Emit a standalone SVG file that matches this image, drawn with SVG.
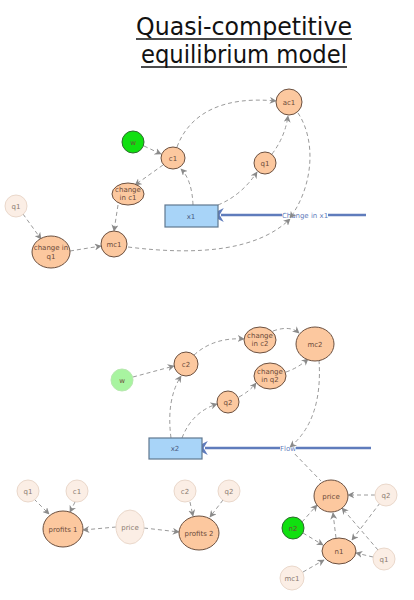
<svg xmlns="http://www.w3.org/2000/svg" width="414" height="600" viewBox="0 0 414 600">
<style>
.n{fill:#fcc89f;stroke:#6b5040;stroke-width:1}
.f{fill:#fbeee5;stroke:#ead8cb;stroke-width:1}
.g{fill:#10e010;stroke:#2f6a2f;stroke-width:1}
.lg{fill:#a8f4a0;stroke:#b8e8b0;stroke-width:1}
.b{fill:#a8d4f8;stroke:#607890;stroke-width:1.2}
.t{font-family:"DejaVu Sans",sans-serif;font-size:7px;fill:#6b4a3a;text-anchor:middle}
.tf{font-family:"DejaVu Sans",sans-serif;font-size:7px;fill:#8a7a70;text-anchor:middle}
.tb{font-family:"DejaVu Sans",sans-serif;font-size:7px;fill:#4a5a80;text-anchor:middle}
.tl{font-family:"DejaVu Sans",sans-serif;font-size:7px;fill:#5f7cbc;text-anchor:middle}
.c{fill:none;stroke:#9a9a9a;stroke-width:1;stroke-dasharray:4,3;marker-end:url(#a)}
.cn{fill:none;stroke:#9a9a9a;stroke-width:1;stroke-dasharray:4,3}
.fl{fill:none;stroke:#5f7cbc;stroke-width:2.5;marker-end:url(#fa)}
.title{font-family:"Comic Sans MS","DejaVu Sans",sans-serif;font-size:24px;fill:#111;text-anchor:middle}
</style>
<defs>
<marker id="a" viewBox="0 0 10 10" refX="9" refY="5" markerWidth="7" markerHeight="7" markerUnits="userSpaceOnUse" orient="auto">
<path d="M0,0 L10,5 L0,10 L3,5 z" fill="#8a8a8a"/>
</marker>
<marker id="fa" viewBox="0 0 10 10" refX="2" refY="5" markerWidth="14" markerHeight="14" markerUnits="userSpaceOnUse" orient="auto">
<path d="M0,0 L10,5 L0,10 L3,5 z" fill="#5f7cbc"/>
</marker>
</defs>

<g id="title">
<text class="title" x="244" y="35" textLength="216" lengthAdjust="spacingAndGlyphs">Quasi-competitive</text>
<line x1="136" y1="39" x2="352" y2="39" stroke="#111" stroke-width="1.5"/>
<text class="title" x="244" y="63" textLength="206" lengthAdjust="spacingAndGlyphs">equilibrium model</text>
<line x1="141" y1="67" x2="347" y2="67" stroke="#111" stroke-width="1.5"/>
</g>

<g id="connectors">
<path class="fl" d="M366,215 L221,215"/>
<path class="fl" d="M371,448 L205,448"/>
<path class="c" d="M144,146 L161,154"/>
<path class="c" d="M193,205 Q192,180 181,169"/>
<path class="c" d="M177,147 C190,112 225,96 276,101"/>
<path class="c" d="M272,154 Q285,137 288,116"/>
<path class="c" d="M218,205 Q242,195 257,172"/>
<path class="c" d="M163,165 L135,185"/>
<path class="c" d="M118,205 L114,231"/>
<path class="c" d="M23,214 L41,239"/>
<path class="c" d="M70,251 L101,246"/>
<path class="c" d="M128,247 C200,256 258,250 290,219"/>

<path class="c" d="M133,377 L174,366"/>
<path class="c" d="M171,438 Q166,400 181,376"/>
<path class="c" d="M182,438 Q192,412 217,404"/>
<path class="c" d="M194,355 Q214,337 244,339"/>
<path class="c" d="M239,397 Q250,391 256,383"/>
<path class="c" d="M273,331 Q290,325 299,333"/>
<path class="c" d="M286,372 Q298,368 308,359"/>
<path class="cn" d="M290,449 L321,481"/>

<path class="c" d="M302,522 L317,505"/>
<path class="c" d="M303,533 L323,545"/>
<path class="c" d="M375,495 L348,495"/>
<path class="c" d="M380,503 L352,540"/>
<path class="c" d="M378,550 L342,508"/>
<path class="c" d="M373,557 L356,553"/>
<path class="c" d="M303,572 L324,560"/>
<path class="c" d="M336,538 L333,513"/>

<path class="c" d="M34,499 L49,514"/>
<path class="c" d="M75,502 L70,512"/>
<path class="c" d="M116,527 L83,530"/>
<path class="c" d="M144,528 L179,532"/>
<path class="c" d="M190,502 L193,516"/>
<path class="c" d="M223,500 L210,517"/>
</g>

<g id="flow1"><rect x="282" y="211" width="46" height="8" fill="#fff"/><text class="tl" x="305" y="218">Change in x1</text></g>
<g id="flow2"><rect x="280" y="444" width="16" height="8" fill="#fff"/><text class="tl" x="288" y="451">Flow</text></g>
<g id="connectors-over">
<path class="c" d="M298,113 C316,140 314,185 290,218"/>
<path class="c" d="M319,360 Q323,420 290,447"/>
</g>

<g id="w1"><circle class="g" cx="133" cy="142" r="11"/><text class="t" x="133" y="145">w</text></g>
<g id="c1"><ellipse class="n" cx="173" cy="158" rx="12" ry="11"/><text class="t" x="173" y="161">c1</text></g>
<g id="ac1"><circle class="n" cx="289" cy="102" r="13"/><text class="t" x="289" y="105">ac1</text></g>
<g id="q1a"><circle class="n" cx="265" cy="163" r="11"/><text class="t" x="265" y="166">q1</text></g>
<g id="changec1"><ellipse class="n" cx="128" cy="194" rx="16" ry="11"/><text class="t" x="128" y="192">change</text><text class="t" x="128" y="200">in c1</text></g>
<g id="q1b"><circle class="f" cx="16" cy="206" r="11"/><text class="tf" x="16" y="209">q1</text></g>
<g id="changeq1"><ellipse class="n" cx="51" cy="252" rx="19" ry="16"/><text class="t" x="51" y="250">change in</text><text class="t" x="51" y="259">q1</text></g>
<g id="mc1"><circle class="n" cx="114" cy="244" r="13"/><text class="t" x="114" y="247">mc1</text></g>
<g id="x1"><rect class="b" x="165" y="205" width="53" height="22"/><text class="tb" x="191" y="219">x1</text></g>

<g id="w2"><circle class="lg" cx="122" cy="380" r="11"/><text class="t" x="122" y="383">w</text></g>
<g id="c2"><circle class="n" cx="186" cy="364" r="12"/><text class="t" x="186" y="367">c2</text></g>
<g id="changec2"><ellipse class="n" cx="260" cy="340" rx="16" ry="13"/><text class="t" x="260" y="338">change</text><text class="t" x="260" y="346">in c2</text></g>
<g id="mc2"><ellipse class="n" cx="315" cy="344" rx="19" ry="17"/><text class="t" x="315" y="347">mc2</text></g>
<g id="q2"><circle class="n" cx="228" cy="402" r="11"/><text class="t" x="228" y="405">q2</text></g>
<g id="changeq2"><ellipse class="n" cx="270" cy="376" rx="16" ry="13"/><text class="t" x="270" y="374">change</text><text class="t" x="270" y="382">in q2</text></g>
<g id="x2"><rect class="b" x="149" y="438" width="53" height="21"/><text class="tb" x="175" y="451">x2</text></g>

<g id="q1c"><circle class="f" cx="28" cy="491" r="11"/><text class="tf" x="28" y="494">q1</text></g>
<g id="c1c"><circle class="f" cx="77" cy="491" r="11"/><text class="tf" x="77" y="494">c1</text></g>
<g id="profits1"><ellipse class="n" cx="63" cy="529" rx="20" ry="18"/><text class="t" x="63" y="532">profits 1</text></g>
<g id="pricef"><ellipse class="f" cx="130" cy="527" rx="14" ry="17"/><text class="tf" x="130" y="530">price</text></g>
<g id="c2c"><circle class="f" cx="185" cy="491" r="11"/><text class="tf" x="185" y="494">c2</text></g>
<g id="q2c"><circle class="f" cx="229" cy="491" r="11"/><text class="tf" x="229" y="494">q2</text></g>
<g id="profits2"><ellipse class="n" cx="199" cy="533" rx="20" ry="17"/><text class="t" x="199" y="536">profits 2</text></g>

<g id="price"><ellipse class="n" cx="331" cy="496" rx="17" ry="16"/><text class="t" x="331" y="499">price</text></g>
<g id="q2d"><circle class="f" cx="386" cy="495" r="11"/><text class="tf" x="386" y="498">q2</text></g>
<g id="n2"><circle class="g" cx="293" cy="528" r="11"/><text class="t" x="293" y="531">n2</text></g>
<g id="n1"><ellipse class="n" cx="339" cy="551" rx="17" ry="13"/><text class="t" x="339" y="554">n1</text></g>
<g id="q1d"><circle class="f" cx="384" cy="559" r="11"/><text class="tf" x="384" y="562">q1</text></g>
<g id="mc1d"><circle class="f" cx="292" cy="578" r="12"/><text class="tf" x="292" y="581">mc1</text></g>
</svg>
